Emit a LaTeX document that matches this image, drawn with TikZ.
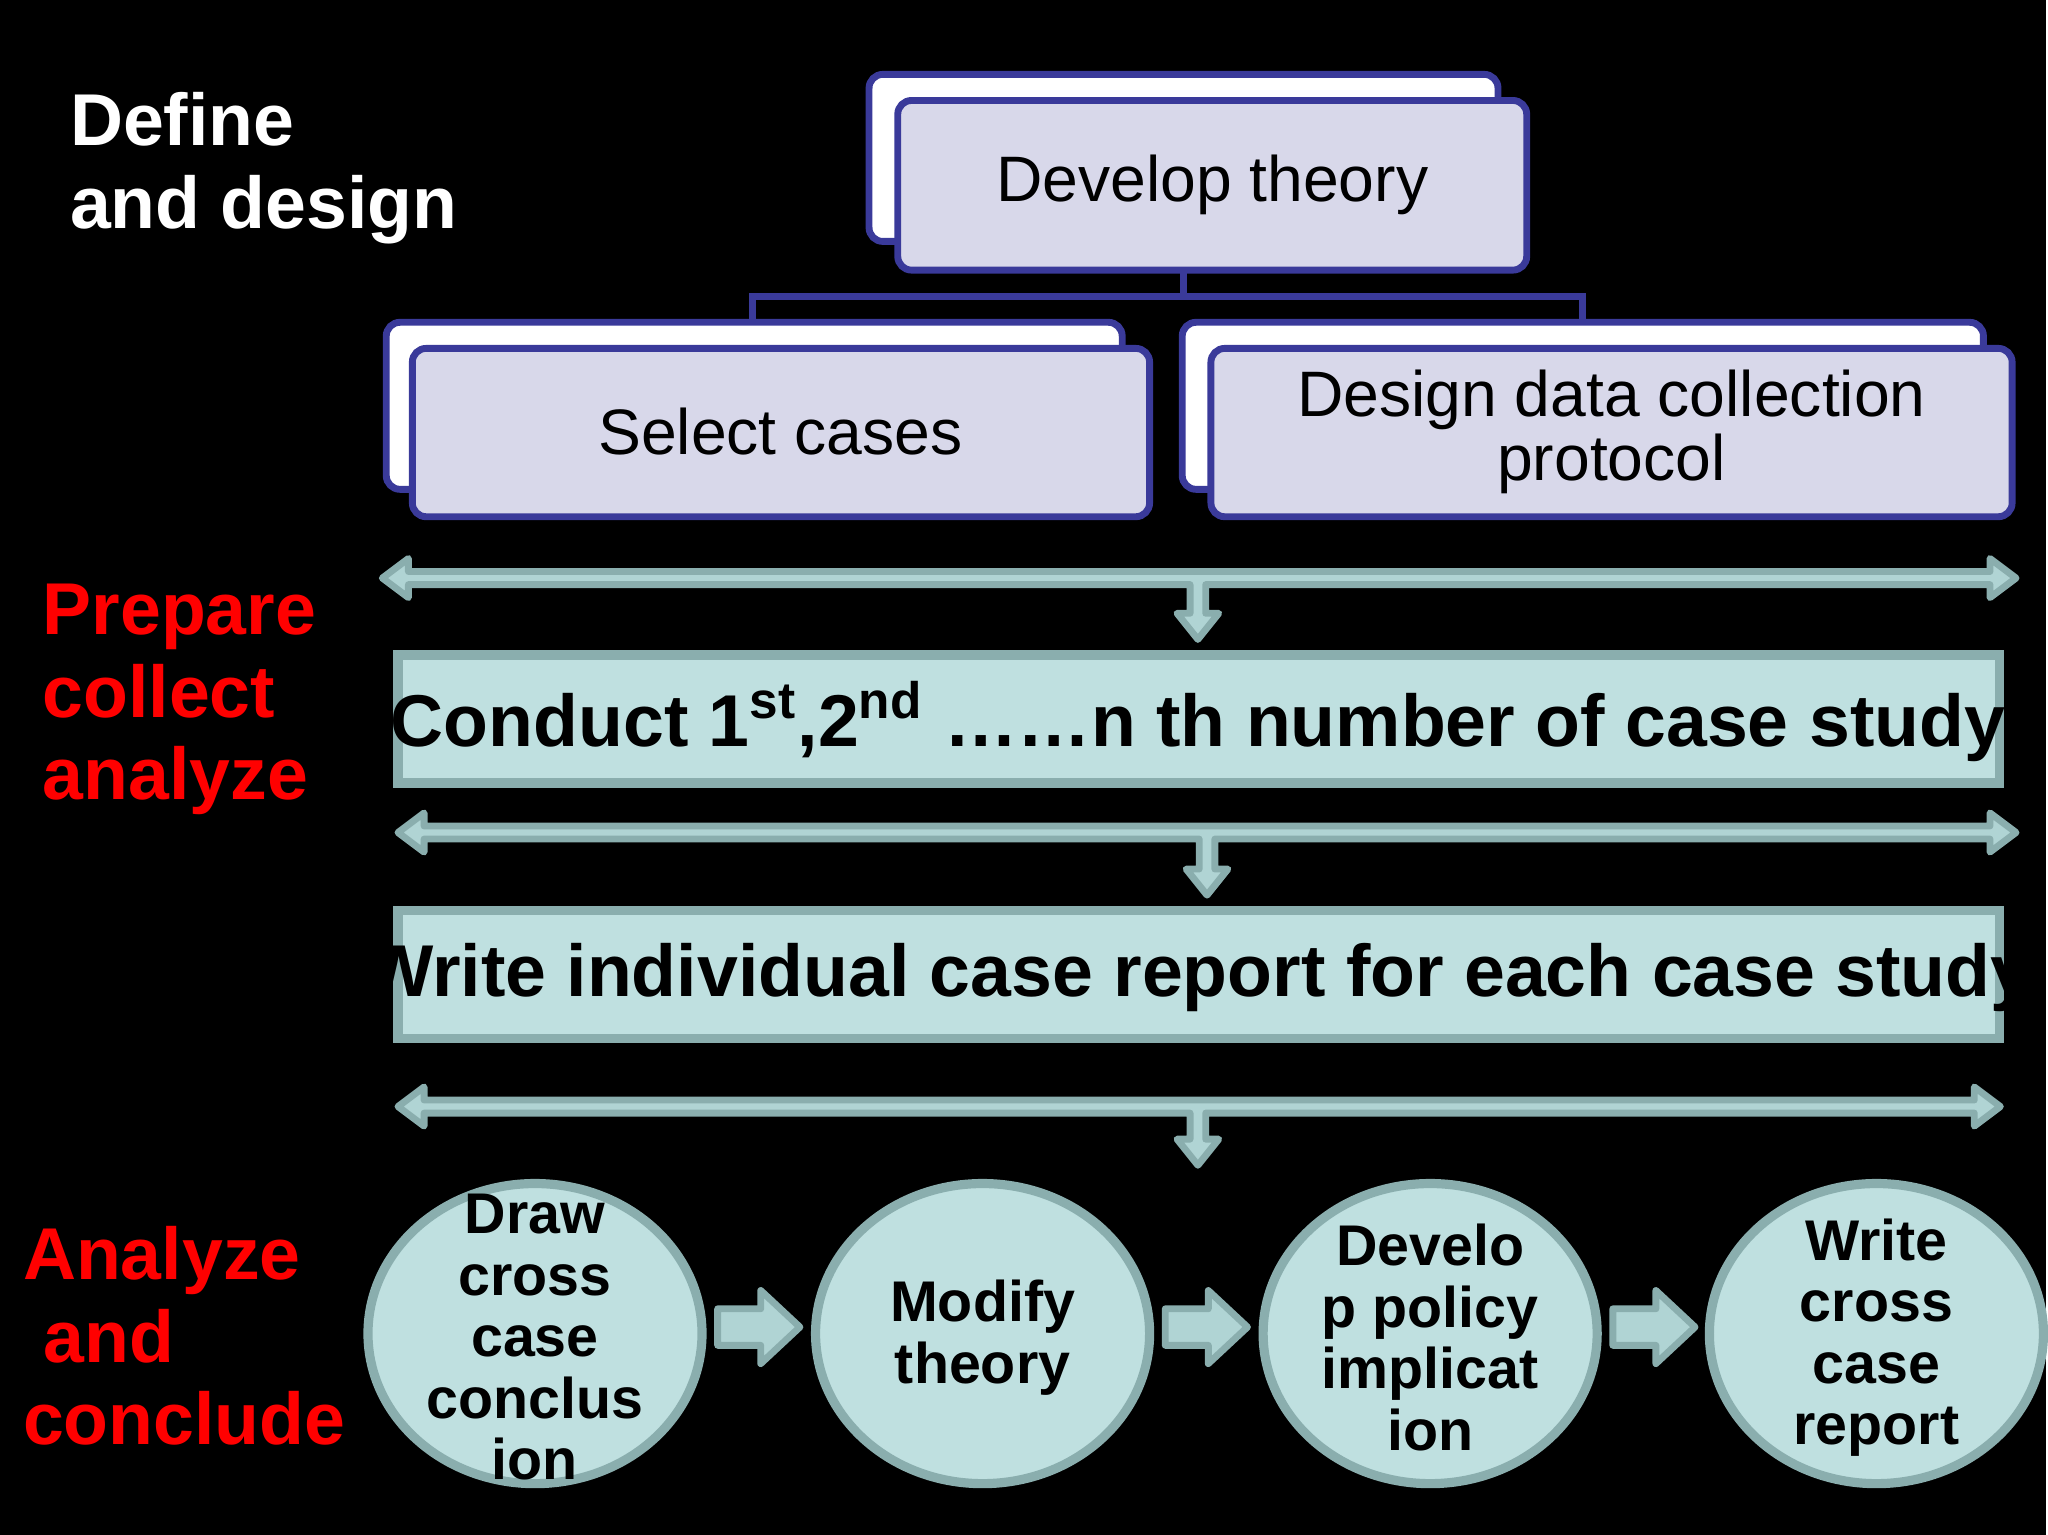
\documentclass[tikz,border=0pt]{standalone}
\usepackage{fontspec}
\setmainfont{Liberation Sans}
\usetikzlibrary{shapes.geometric}
\definecolor{lav}{HTML}{D8D8EA}
\definecolor{lavb}{HTML}{3A3A9A}
\definecolor{tealf}{HTML}{BFE0E0}
\definecolor{tealb}{HTML}{8AAEAE}
\definecolor{arrf}{HTML}{B0D4D4}
\begin{document}
\begin{tikzpicture}[x=0.01cm,y=-0.01cm,
  back/.style={draw=lavb,line width=1.5pt,fill=white,rounded corners=3pt},
  front/.style={draw=lavb,line width=1.5pt,fill=lav,rounded corners=3pt},
  tbox/.style={draw=tealb,line width=2pt,fill=tealf},
  circ/.style={ellipse,draw=tealb,line width=2pt,fill=tealf,minimum width=256\pgflinewidth,inner sep=0pt,align=center,font=\bfseries\fontsize{12.5}{13.5}\selectfont},
  arr/.style={draw=tealb,line width=1.5pt,fill=arrf,line join=round},
  lab/.style={anchor=north west,align=left,font=\bfseries\fontsize{16}{18}\selectfont,inner sep=0pt}]
\fill[black] (0,0) rectangle (1568,1176);
\node[lab,white] (dd) at (53,70) {Define\\and design};
\node[lab,red] (pc) at (32,447) {Prepare\\collect\\analyze};
\node[lab,red] (ac) at (17,939) {Analyze\\\ and\\conclude};
% tree
\draw[back] (666,57) rectangle (1148,185);
\draw[front] (688,77) rectangle (1170,207);
\node[font=\fontsize{14}{16}\selectfont] (dt) at (929,142) {Develop theory};
\draw[back] (296,247) rectangle (860,375);
\draw[front] (316,267) rectangle (881,396);
\node[font=\fontsize{14}{16}\selectfont] (sc) at (598,331) {Select cases};
\draw[back] (906,247) rectangle (1520,375);
\draw[front] (928,267) rectangle (1542,396);
\node[font=\fontsize{14}{14}\selectfont,align=center] (dc) at (1235,331) {Design data collection\\protocol};
\coordinate (t0) at (907,207);
\coordinate (t1) at (577,247);
\coordinate (t2) at (1213,247);
\draw[lavb,line width=1.5pt] (t0) -- ++(0,20) -| (t1);
\draw[lavb,line width=1.5pt] (t0) -- ++(0,20) -| (t2);
% double arrows
\newcommand\harrow[5]{%
\draw[arr] (#1,#3) -- (#1+20,#3-15) -- (#1+20,#3-5) -- (#2-20,#3-5) -- (#2-20,#3-15) -- (#2,#3)
 -- (#2-20,#3+15) -- (#2-20,#3+5) -- (#4+6,#3+5) -- (#4+6,#5-20) -- (#4+16,#5-20) -- (#4,#5)
 -- (#4-16,#5-20) -- (#4-6,#5-20) -- (#4-6,#3+5) -- (#1+20,#3+5) -- (#1+20,#3+15) -- cycle;}
\harrow{293}{1545}{443}{918}{490}
\harrow{305}{1545}{638}{925}{686}
\harrow{305}{1533}{848}{918}{893}
% boxes
\draw[tbox] (305,502) rectangle (1532,600);
\node[font=\bfseries\fontsize{16}{18}\selectfont] (cn) at (918,553) {Conduct 1\textsuperscript{st},2\textsuperscript{nd} ……n th number of case study};
\draw[tbox] (305,698) rectangle (1532,796);
\node[font=\bfseries\fontsize{16}{18}\selectfont] (wr) at (918,749) {Write individual case report for each case study};
% circles
\draw[tbox] (410,1022) ellipse (128 and 115);
\node[align=center,font=\bfseries\fontsize{12.5}{13.4}\selectfont] (c1) at (410,1025) {Draw\\cross\\case\\conclus\\ion};
\draw[tbox] (753,1022) ellipse (128 and 115);
\node[align=center,font=\bfseries\fontsize{12.5}{13.4}\selectfont] (c2) at (753,1025) {Modify\\theory};
\draw[tbox] (1096,1022) ellipse (128 and 115);
\node[align=center,font=\bfseries\fontsize{12.5}{13.4}\selectfont] (c3) at (1096,1025) {Develo\\p policy\\implicat\\ion};
\draw[tbox] (1438,1022) ellipse (128 and 115);
\node[align=center,font=\bfseries\fontsize{12.5}{13.4}\selectfont] (c4) at (1438,1025) {Write\\cross\\case\\report};
\newcommand\barrow[2]{%
\draw[arr] (#1,#2-14) -- (#1+33,#2-14) -- (#1+33,#2-28) -- (#1+63,#2) -- (#1+33,#2+28) -- (#1+33,#2+14) -- (#1,#2+14) -- cycle;}
\barrow{550}{1017}
\barrow{893}{1017}
\barrow{1236}{1017}
\end{tikzpicture}
\end{document}
